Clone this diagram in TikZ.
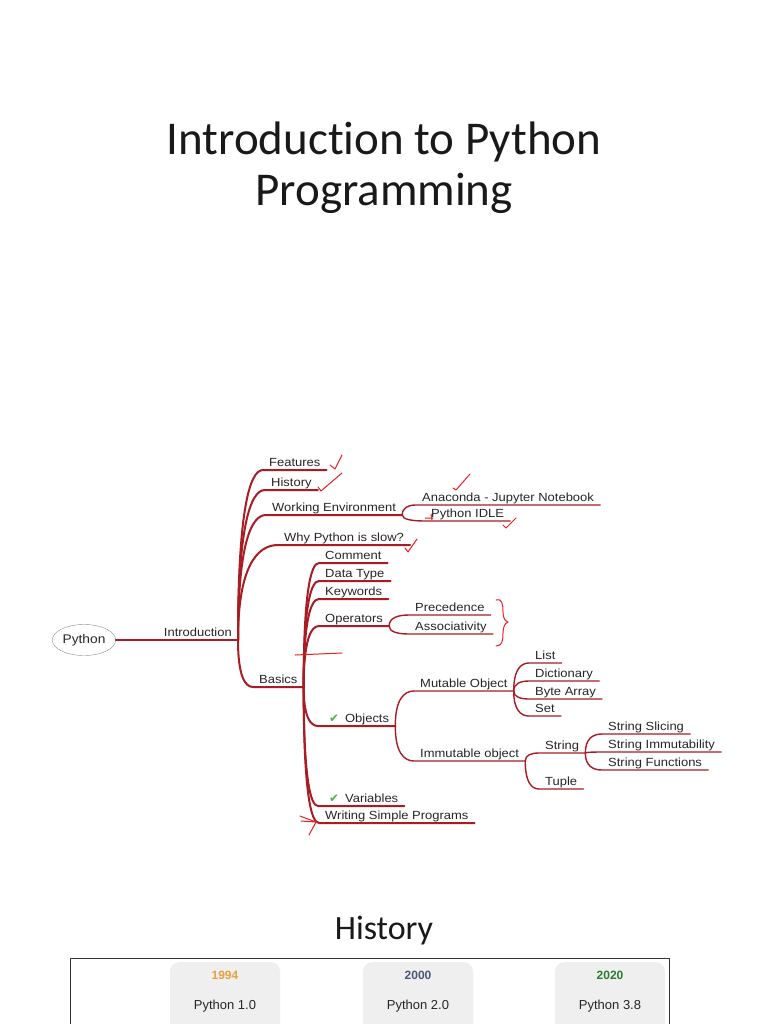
\documentclass[tikz,border=0pt]{standalone}
\usepackage{fontspec}
\setmainfont{Liberation Sans}
\newfontfamily\slidefont{Carlito}[Ligatures=NoCommon]
\newfontfamily\mapfont{Liberation Sans}[FakeStretch=1.1]
\newfontfamily\symfont{DejaVu Sans}
\usetikzlibrary{shapes.geometric}
\usetikzlibrary{calc}

\definecolor{stemred}{RGB}{168,28,36}
\definecolor{penred}{RGB}{232,32,32}
\definecolor{okgreen}{RGB}{76,175,80}
\definecolor{cardgray}{RGB}{239,239,239}
\definecolor{yearorange}{RGB}{232,160,64}
\definecolor{yearslate}{RGB}{70,90,120}
\definecolor{yeargreen}{RGB}{40,125,50}

\newcommand{\okmark}{\hspace*{5pt}{\symfont\color{okgreen}\char"2714}\hspace*{6pt}}

\tikzset{
  topic/.style={anchor=south west, inner xsep=6pt, inner ysep=2.5pt, text height=8.5pt, text depth=0.5pt,
    font=\mapfont\fontsize{11.8}{13}\selectfont, text=black!85},
  twig/.style={draw=stemred, line width=1.4pt, line cap=round,
    to path={(\tikztostart.south east)
      .. controls ($(\tikztostart.south east)!.75!(\tikztostart.south east |- \tikztotarget.south west)$)
      and ($(\tikztotarget.south west)!.55!(\tikztostart.south east |- \tikztotarget.south west)$)
      .. (\tikztotarget.south west) -- (\tikztotarget.south east)}},
  trunk/.style={twig, line width=2pt},
  pen/.style={draw=penred, line width=1pt, line cap=round, line join=round},
  card/.style={fill=cardgray, rounded corners=9pt, anchor=north, minimum width=110pt, minimum height=80pt},
  year/.style={font=\bfseries\fontsize{12}{14}\selectfont},
  version/.style={font=\fontsize{13}{15}\selectfont, text=black!85},
}

\begin{document}
\begin{tikzpicture}[x=1pt,y=-1pt]
  \clip (0,0) rectangle (768,1024);
  \fill[white] (0,0) rectangle (768,1024);

  % title
  \node[font=\slidefont\fontsize{47}{51}\selectfont, align=center, text=black!90] (title) at (384,168)
    {Introduction to Python\\Programming};

  % mind map
  \node[draw=black!45, ellipse, minimum width=62pt, minimum height=31pt, inner sep=1pt,
    font=\mapfont\fontsize{12.5}{14}\selectfont, text=black!85] (python) at (84,640) {Python};
  \node[topic, anchor=south east] (intro) at (238,640) {Introduction};

  \node[topic] (features) at (263,470) {Features};
  \node[topic] (history) at (265,490) {History};
  \node[topic] (workenv) at (266,515) {Working Environment};
  \node[topic] (slow) at (278,545) {Why Python is slow?};
  \node[topic] (basics) at (253,687) {Basics};

  \node[topic] (anaconda) at (416,505) {Anaconda - Jupyter Notebook};
  \node[topic] (idle) at (425,521) {Python IDLE};

  \node[topic] (comment) at (319,563) {Comment};
  \node[topic] (datatype) at (319,581) {Data Type};
  \node[topic] (keywords) at (319,599) {Keywords};
  \node[topic] (operators) at (319,626) {Operators};
  \node[topic] (objects) at (318,726) {\okmark Objects};
  \node[topic] (variables) at (318,806) {\okmark Variables};
  \node[topic] (writing) at (319,823) {Writing Simple Programs};

  \node[topic] (precedence) at (409,615) {Precedence};
  \node[topic] (assoc) at (409,634) {Associativity};

  \node[topic] (mutable) at (414,691) {Mutable Object};
  \node[topic] (immutable) at (414,761) {Immutable object};

  \node[topic] (list) at (529,663) {List};
  \node[topic] (dict) at (529,681) {Dictionary};
  \node[topic] (bytearr) at (529,699) {Byte Array};
  \node[topic] (setobj) at (529,716) {Set};

  \node[topic] (string) at (539,753) {String};
  \node[topic] (tuple) at (539,789) {Tuple};

  \node[topic] (slicing) at (602,734) {String Slicing};
  \node[topic] (strimm) at (602,752) {String Immutability};
  \node[topic] (strfunc) at (602,770) {String Functions};

  \draw[trunk] (python.east) -- (intro.south east);
  \path[trunk] (intro) edge (features) edge (history) edge (workenv) edge (slow) edge (basics);
  \path[twig] (workenv) edge (anaconda) edge (idle);
  \path[trunk] (basics) edge (comment) edge (datatype) edge (keywords) edge (operators)
    edge (objects) edge (variables) edge (writing);
  \path[twig] (operators) edge (precedence) edge (assoc);
  \path[twig] (objects) edge (mutable) edge (immutable);
  \path[twig] (mutable) edge (list) edge (dict) edge (bytearr) edge (setobj);
  \path[twig] (immutable) edge (string) edge (tuple);
  \path[twig] (string) edge (slicing) edge (strimm) edge (strfunc);

  % pen marks
  \draw[pen] (330,465) -- (335,469) -- (342,455);
  \draw[pen] (318,487) -- (321,491) -- (342,473);
  \draw[pen] (405,548) -- (408,552) -- (417,539);
  \draw[pen] (453,488) -- (456,490) -- (470,474);
  \draw[pen] (503,525) -- (506,528) -- (516,518);
  \draw[pen] (425,518) -- (433,518) (431,514) -- (432,520);
  \draw[pen] (295,655) -- (342,653);
  \draw[pen] (496,600) .. controls (502,598) and (503,604) .. (503,612)
    .. controls (503,618) and (505,621) .. (508,622)
    .. controls (505,623) and (503,627) .. (503,633)
    .. controls (503,641) and (502,646) .. (496,646);
  \draw[pen] (300,816) -- (316,822) -- (309,835) (301,821) -- (316,822);

  % history
  \node[font=\slidefont\fontsize{34}{40}\selectfont, text=black!90] (hist) at (384,931) {History};
  \draw[black!80, line width=1pt] (70,958) rectangle (669,1060);
  \node[card] (card1) at (225,962) {};
  \node[card] (card2) at (418,962) {};
  \node[card] (card3) at (610,962) {};
  \node[year, text=yearorange] (year1) at (225,975) {1994};
  \node[year, text=yearslate] (year2) at (418,975) {2000};
  \node[year, text=yeargreen] (year3) at (610,975) {2020};
  \node[version] (ver1) at (225,1006) {Python 1.0};
  \node[version] (ver2) at (418,1006) {Python 2.0};
  \node[version] (ver3) at (610,1006) {Python 3.8};
\end{tikzpicture}
\end{document}
